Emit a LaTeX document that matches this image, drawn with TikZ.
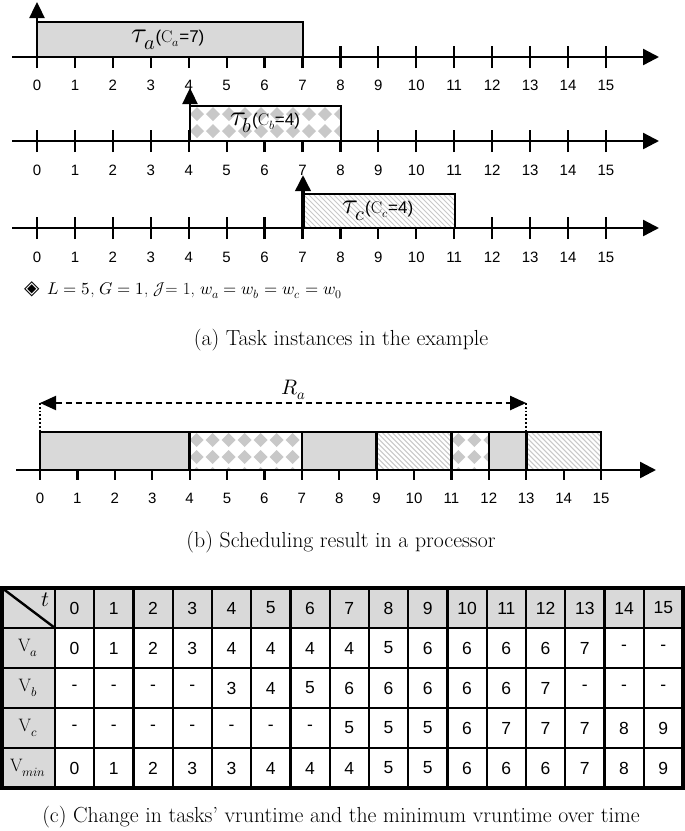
\documentclass[tikz,border=0pt]{standalone}
\usepackage{fontspec}
\usepackage{unicode-math}
\setmathfont{Latin Modern Math}
\newfontfamily\arial{Liberation Sans}
\newfontfamily\dejavu{DejaVu Sans}
\usetikzlibrary{arrows.meta}
\definecolor{boxgray}{RGB}{217,217,217}
\definecolor{patgray}{RGB}{200,200,200}
\tikzset{
  axisline/.style={line width=2.4pt,-{Triangle[length=16pt,width=16pt]}},
  tickline/.style={line width=2.2pt},
  relarrow/.style={line width=2.4pt,-{Triangle[length=16pt,width=15pt]}},
  taskbox/.style={draw=black,line width=2.6pt,inner sep=0pt,outer sep=0pt},
  ticklab/.style={font=\arial\fontsize{15}{17}\selectfont,inner sep=0pt},
  tasklab/.style={inner sep=0pt,font=\fontsize{17}{19}\selectfont},
  caption/.style={font=\fontsize{21.8}{25}\selectfont,inner sep=0pt},
  cell/.style={font=\arial\fontsize{17.5}{20}\selectfont,inner sep=0pt},
  rowlab/.style={font=\fontsize{18}{21}\selectfont,inner sep=0pt},
  hatchline/.style={draw=patgray,line width=1pt},
  diam/.style={fill=patgray},
  gridline/.style={line width=2.4pt},
  outerline/.style={line width=3.2pt},
}
\newcommand\hatchfill[4]{%
  \begin{scope}
    \clip (#1,#2) rectangle (#3,#4);
    \fill[white] (#1,#2) rectangle (#3,#4);
    \foreach \s in {-50,-45,...,165} \draw[hatchline] ({#1+\s},#2) -- ++(50,50);
  \end{scope}}
\newcommand\diamfill[4]{%
  \begin{scope}
    \clip (#1,#2) rectangle (#3,#4);
    \fill[white] (#1,#2) rectangle (#3,#4);
    \foreach \i in {0,...,10} \foreach \j in {0,...,2}
      \fill[diam] ({#1+7+16*\i},{#2+8+17*\j}) +(0,-7) -- +(7,0) -- +(0,7) -- +(-7,0) -- cycle;
  \end{scope}}
\newcommand\timeline[3]{%
  \coordinate (#1-s) at (12,#2);
  \coordinate (#1-e) at (659,#2);
  \draw[axisline] (#1-s) -- (#1-e);
  \foreach \t in {0,...,15}{
    \coordinate (#1-t\t) at ({37+37.93*\t},#2);
    \draw[tickline] ([yshift=-11pt]#1-t\t) -- ([yshift=11pt]#1-t\t);
    \node[ticklab] (#1-l\t) at ({37+37.93*\t},#3) {\t};
  }}
\newcommand\taulab[2]{{\fontsize{29}{30}\selectfont$\tau_{#1}$}{\arial(}$\mathrm{C}_{#1}${\arial=#2)}}
\begin{document}
\begin{tikzpicture}[x=1pt,y=-1pt]
\useasboundingbox (0,0) rectangle (685,831);
% ---------- (a) ----------
\timeline{ta}{57}{85}
\timeline{tb}{141}{170}
\timeline{tc}{228}{257}
% task a
\node[taskbox,fill=boxgray,minimum width=266pt,minimum height=35pt,anchor=north west] (boxa) at (37,22) {};
\coordinate (rela) at (37,2);
\draw[relarrow] (boxa.south west) -- (rela);
\node[tasklab] (laba) at (168,40) {\taulab{a}{7}};
% task b
\diamfill{190}{106}{341}{141}
\node[taskbox,minimum width=151pt,minimum height=35pt,anchor=north west] (boxb) at (190,106) {};
\coordinate (relb) at (190,88);
\draw[relarrow] (boxb.south west) -- (relb);
\node[tasklab] (labb) at (265,123) {\taulab{b}{4}};
% task c
\hatchfill{303}{194}{455}{228}
\node[taskbox,minimum width=152pt,minimum height=34pt,anchor=north west] (boxc) at (303,194) {};
\coordinate (relc) at (303,175);
\draw[relarrow,line width=3.6pt] (boxc.south west) -- (relc);
\node[tasklab] (labc) at (378,211) {\taulab{c}{4}};
% legend
\node[anchor=west,inner sep=0pt,font=\fontsize{17}{20}\selectfont] (legend) at (24,290)
  {{\dejavu\fontsize{20}{22}\selectfont ◈}\, $L=5$, $G=1$, $\mathcal{J}$= 1, $w_a=w_b=w_c=w_0$};
\node[caption] (capa) at (341,340) {(a) Task instances in the example};
% ---------- (b) ----------
\coordinate (sb-s) at (16,470);
\coordinate (sb-e) at (656,470);
\draw[axisline] (sb-s) -- (sb-e);
\foreach \t in {0,...,15}{
  \coordinate (sb-t\t) at ({40+37.4*\t},470);
  \draw[tickline] (sb-t\t) -- ([yshift=-10pt]sb-t\t);
  \node[ticklab] (sb-l\t) at ({40+37.4*\t},498) {\t};
}
\fill[boxgray] (40,432) rectangle (189.6,470);
\diamfill{189.6}{432}{301.8}{470}
\fill[boxgray] (301.8,432) rectangle (376.6,470);
\hatchfill{376.6}{432}{451.4}{470}
\diamfill{451.4}{432}{488.8}{470}
\fill[boxgray] (488.8,432) rectangle (526.2,470);
\hatchfill{526.2}{432}{601}{470}
\node[taskbox,minimum width=149.6pt,minimum height=38pt,anchor=north west] (seg1) at (40,432) {};
\node[taskbox,minimum width=112.2pt,minimum height=38pt,anchor=north west] (seg2) at (189.6,432) {};
\node[taskbox,minimum width=74.8pt,minimum height=38pt,anchor=north west] (seg3) at (301.8,432) {};
\node[taskbox,minimum width=74.8pt,minimum height=38pt,anchor=north west] (seg4) at (376.6,432) {};
\node[taskbox,minimum width=37.4pt,minimum height=38pt,anchor=north west] (seg5) at (451.4,432) {};
\node[taskbox,minimum width=37.4pt,minimum height=38pt,anchor=north west] (seg6) at (488.8,432) {};
\node[taskbox,minimum width=74.8pt,minimum height=38pt,anchor=north west] (seg7) at (526.2,432) {};
\coordinate (ra-l) at (40,403);
\coordinate (ra-r) at (526.2,403);
\draw[line width=2pt,dash pattern=on 6pt off 4pt,{Triangle[length=16pt,width=14pt]}-{Triangle[length=16pt,width=14pt]}] (ra-l) -- (ra-r);
\draw[line width=1.8pt,dotted] (ra-l) -- (seg1.north west);
\draw[line width=1.8pt,dotted] (ra-r) -- (seg7.north west);
\node[inner sep=0pt,font=\fontsize{21}{24}\selectfont] (ralab) at (294,390) {$R_a$};
\node[caption] (capb) at (341,542) {(b) Scheduling result in a processor};
% ---------- (c) table ----------
\fill[boxgray] (2,588) rectangle (683,628);
\fill[boxgray] (2,628) rectangle (55,788);
\foreach \i in {0,...,15} \draw[gridline] ({55+39.25*\i},588) -- ({55+39.25*\i},788);
\foreach \yy in {628,668,708,748} \draw[gridline] (2,\yy) -- (683,\yy);
\draw[outerline] (2,588) rectangle (683,788);
\coordinate (diag-a) at (2,588);
\coordinate (diag-b) at (55,628);
\draw[gridline] (diag-a) -- (diag-b);
\node[inner sep=0pt,font=\fontsize{22}{24}\selectfont] (tlab) at (45,600) {$t$};
\foreach \i in {0,...,15} \node[cell] (h-\i) at ({74.6+39.25*\i},608) {\i};
\node[rowlab] (rva) at (28,648) {$\mathrm{V}_a$};
\node[rowlab] (rvb) at (28,688) {$\mathrm{V}_b$};
\node[rowlab] (rvc) at (28,728) {$\mathrm{V}_c$};
\node[rowlab] (rvm) at (28,768) {$\mathrm{V}_{min}$};
\foreach \v [count=\i from 0] in {0,1,2,3,4,4,4,4,5,6,6,6,6,7,-,-}
  \node[cell] (va-\i) at ({74.6+39.25*\i},648) {\v};
\foreach \v [count=\i from 0] in {-,-,-,-,3,4,5,6,6,6,6,6,7,-,-,-}
  \node[cell] (vb-\i) at ({74.6+39.25*\i},688) {\v};
\foreach \v [count=\i from 0] in {-,-,-,-,-,-,-,5,5,5,6,7,7,7,8,9}
  \node[cell] (vc-\i) at ({74.6+39.25*\i},728) {\v};
\foreach \v [count=\i from 0] in {0,1,2,3,3,4,4,4,5,5,6,6,6,7,8,9}
  \node[cell] (vm-\i) at ({74.6+39.25*\i},768) {\v};
\node[caption] (capc) at (341,817) {(c) Change in tasks' vruntime and the minimum vruntime over time};
\end{tikzpicture}
\end{document}
